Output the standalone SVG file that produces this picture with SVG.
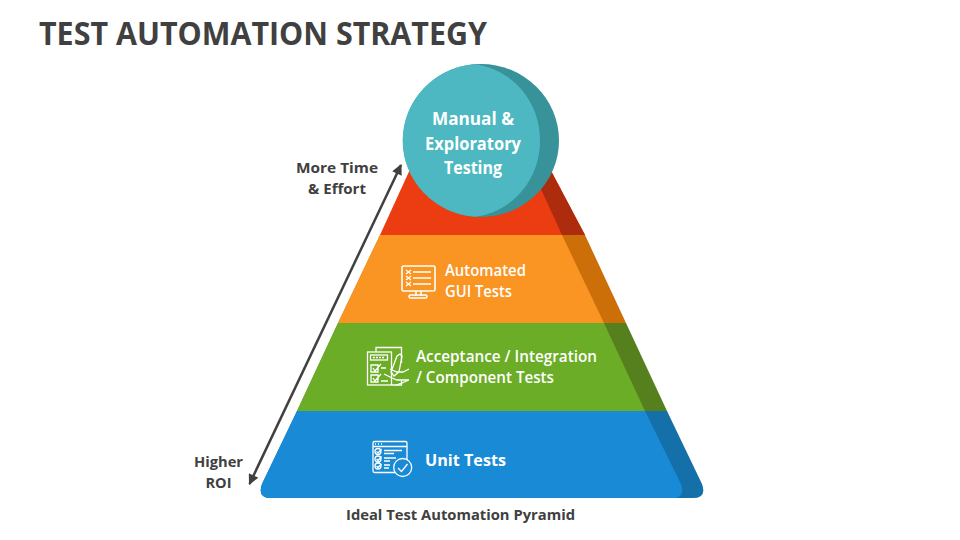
<svg xmlns="http://www.w3.org/2000/svg" width="960" height="540" viewBox="0 0 960 540">
<style>
text{font-family:"Open Sans","Noto Sans","Liberation Sans",sans-serif}
.d{fill:#404040;font-weight:700;font-size:15px;text-anchor:middle}
.w{fill:#fff;font-weight:600;font-size:15.500px}
.b{fill:#fff;font-weight:700;text-anchor:middle}
.i{fill:none;stroke:#fff;stroke-width:1.300}
.t{fill:none;stroke:#fff;stroke-width:1.600}
</style>
<defs>
<marker id="ah" viewBox="0 0 10 10" refX="9" refY="5" markerWidth="4.800" markerHeight="4.200" orient="auto-start-reverse"><path d="M0 0L10 5L0 10Z" fill="#404040"/></marker>
</defs>
<rect width="960" height="540" fill="#fff"/>
<text id="title" x="39" y="45" font-size="31.500" font-weight="700" fill="#404040" textLength="448" lengthAdjust="spacingAndGlyphs">TEST AUTOMATION STRATEGY</text>
<g id="layer-unit">
<path d="M297 411H667L702 484Q707 498 693 498H271Q257 498 262 484Z" fill="#156fa8"/>
<path d="M297 411H645L681 484Q686 498 672 498H271Q257 498 262 484Z" fill="#188ad6"/>
<g class="i">
<rect x="373" y="441.500" width="34" height="31" rx="1.500"/><path d="M373 446.500H407M375 444H376M378 444H379M381 444H382"/>
<circle cx="378" cy="451.500" r="3"/><circle cx="378" cy="459" r="3"/><circle cx="378" cy="466" r="3"/>
<path d="M376.500 451.500L378 453L381.500 449M376.500 459L378 460.500L381.500 456.500M376.500 466L378 467.500L381.500 464M384 450.500H402M384 453.500H394M384 458H396M384 461H390M384 465H390M384 468H389"/>
<circle cx="402.700" cy="467.500" r="9" fill="#188ad6"/><path d="M398 468L401.500 471.500L407.500 464"/>
</g>
<text class="b" x="465.500" y="466" font-size="16.500" textLength="81" lengthAdjust="spacingAndGlyphs">Unit Tests</text>
</g>
<g id="layer-acceptance">
<path d="M338 323H626L667 411H297Z" fill="#567f1d"/>
<path d="M338 323H604L645 411H297Z" fill="#6bad26"/>
<g class="i">
<path d="M376 352V347.500H401.500V363M392 385H401.500V380"/>
<rect x="367.500" y="352" width="24" height="33"/>
<rect x="370.500" y="355" width="17" height="5"/>
<path d="M373 357.500H385" stroke-dasharray="2 1"/>
<path d="M371 365H378V372H371ZM371 375H378V382H371ZM373 368L375 371L381 364M373 378L375 381L381 374M381 368H386M381 381H388"/>
<path d="M391 372L397 356L400 354L402 356L399 372L394 376ZM384 374L392 378L397 380H409M390 369L397 372H403L409 369M396 385L402 383L409 380"/>
</g>
<text class="w" x="416" y="362" textLength="181" lengthAdjust="spacingAndGlyphs">Acceptance / Integration</text>
<text class="w" x="416" y="383" textLength="138" lengthAdjust="spacingAndGlyphs">/ Component Tests</text>
</g>
<g id="layer-gui">
<path d="M380 235H585L626 323H338Z" fill="#cc6f08"/>
<path d="M380 235H562L604 323H338Z" fill="#fa9422"/>
<g class="t">
<rect x="402" y="266" width="33" height="25" rx="1.500"/>
<path d="M413 272H431M413 278H431M413 284H431M416 291V296M421 291V296"/>
<path d="M406 270L411 274M411 270L406 274M406 276L411 280M411 276L406 280M406 282L411 286M411 282L406 286" stroke-width="1.400"/>
<rect x="409" y="295" width="18" height="3" rx="1.500"/>
</g>
<text class="w" x="445" y="276" textLength="81" lengthAdjust="spacingAndGlyphs">Automated</text>
<text class="w" x="445" y="297" textLength="67" lengthAdjust="spacingAndGlyphs">GUI Tests</text>
</g>
<g id="layer-top">
<path d="M412 165H548L585 235H380Z" fill="#ec3c12"/>
<path d="M530 165H548L585 235H562Z" fill="#ae2c0e"/>
</g>
<g id="layer-manual">
<ellipse cx="481" cy="140.500" rx="78" ry="76.500" fill="#38929a"/>
<path d="M475 64.200A78 76.500 0 0 0 475 216.800C512 212 540 180 540 140.500C540 101 512 69 475 64.200Z" fill="#4db8c1"/>
<text class="b" x="473" y="125" font-size="17.500" textLength="82" lengthAdjust="spacingAndGlyphs">Manual &amp;</text>
<text class="b" x="473" y="150" font-size="17.500" textLength="96" lengthAdjust="spacingAndGlyphs">Exploratory</text>
<text class="b" x="473" y="174" font-size="17.500" textLength="58" lengthAdjust="spacingAndGlyphs">Testing</text>
</g>
<g id="connectors">
<path d="M249.500 484L401 165" fill="none" stroke="#404040" stroke-width="2.500" marker-start="url(#ah)" marker-end="url(#ah)"/>
</g>
<g id="labels">
<text class="d" x="337" y="173" textLength="82" lengthAdjust="spacingAndGlyphs">More Time</text>
<text class="d" x="337" y="194" textLength="58" lengthAdjust="spacingAndGlyphs">&amp; Effort</text>
<text class="d" x="218.500" y="467" textLength="49" lengthAdjust="spacingAndGlyphs">Higher</text>
<text class="d" x="218.500" y="488" textLength="26" lengthAdjust="spacingAndGlyphs">ROI</text>
<text class="d" x="460.500" y="520" textLength="229" lengthAdjust="spacingAndGlyphs">Ideal Test Automation Pyramid</text>
</g>
</svg>
